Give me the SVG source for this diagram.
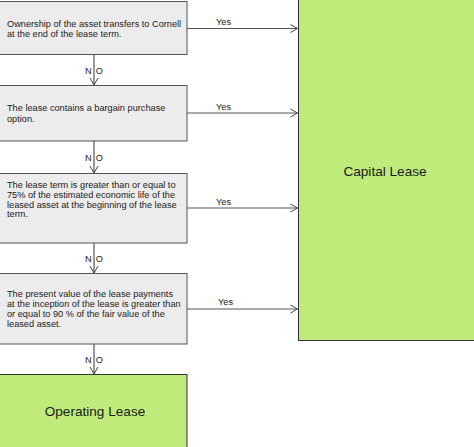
<svg xmlns="http://www.w3.org/2000/svg" width="474" height="447" viewBox="0 0 474 447">
<defs>
<style>
.box{fill:#ececec;stroke:#555;stroke-width:1}
.green{fill:#bfeb7b;stroke:#333;stroke-width:1}
.t{font-family:"Liberation Sans",Arial,sans-serif;font-size:9.2px;fill:#222}
.big{font-family:"Liberation Sans",Arial,sans-serif;font-size:13.6px;fill:#1a1a1a;text-anchor:middle}
.c{stroke:#555;stroke-width:1.2;fill:none}
</style>
<marker id="ah" markerWidth="10" markerHeight="10" refX="8" refY="5" orient="auto" markerUnits="userSpaceOnUse">
<path d="M1,1 L8,5 L1,9" fill="none" stroke="#444" stroke-width="1"/>
</marker>
</defs>
<rect width="474" height="447" fill="#fff"/>
<g id="capital">
<rect class="green" x="298.5" y="-2" width="180" height="342.5"/>
<text class="big" x="385" y="176">Capital Lease</text>
</g>
<g id="operating">
<rect class="green" x="-1" y="374.5" width="188" height="80"/>
<text class="big" x="95" y="416">Operating Lease</text>
</g>
<g id="q1">
<rect class="box" x="-1" y="1.5" width="188" height="53"/>
<text class="t" x="7" y="27">Ownership of the asset transfers to Cornell</text>
<text class="t" x="7" y="37">at the end of the lease term.</text>
</g>
<g id="q2">
<rect class="box" x="-1" y="85.5" width="188" height="55.5"/>
<text class="t" x="7" y="111">The lease contains a bargain purchase</text>
<text class="t" x="7" y="121.5">option.</text>
</g>
<g id="q3">
<rect class="box" x="-1" y="173.5" width="188" height="69.5"/>
<text class="t" x="7" y="188">The lease term is greater than or equal to</text>
<text class="t" x="7" y="197.8">75% of the estimated economic life of the</text>
<text class="t" x="7" y="207.6">leased asset at the beginning of the lease</text>
<text class="t" x="7" y="217.4">term.</text>
</g>
<g id="q4">
<rect class="box" x="-1" y="273.5" width="188" height="70.5"/>
<text class="t" x="7" y="297">The present value of the lease payments</text>
<text class="t" x="7" y="307">at the inception of the lease is greater than</text>
<text class="t" x="7" y="317">or equal to 90 % of the fair value of the</text>
<text class="t" x="7" y="327">leased asset.</text>
</g>
<g id="connectors">
<path class="c" d="M187,28.5 H297.5" marker-end="url(#ah)"/>
<path class="c" d="M187,113 H297.5" marker-end="url(#ah)"/>
<path class="c" d="M187,208 H297.5" marker-end="url(#ah)"/>
<path class="c" d="M187,309 H297.5" marker-end="url(#ah)"/>
<path class="c" d="M94,54.5 V85" marker-end="url(#ah)"/>
<path class="c" d="M94,141 V173" marker-end="url(#ah)"/>
<path class="c" d="M94,243 V273" marker-end="url(#ah)"/>
<path class="c" d="M94,344 V374" marker-end="url(#ah)"/>
<text class="t" x="216" y="25">Yes</text>
<text class="t" x="216" y="110">Yes</text>
<text class="t" x="216" y="205">Yes</text>
<text class="t" x="218" y="305">Yes</text>
<text class="t" x="85" y="73.5" letter-spacing="4">NO</text>
<text class="t" x="85" y="160.5" letter-spacing="4">NO</text>
<text class="t" x="85" y="262" letter-spacing="4">NO</text>
<text class="t" x="85" y="362.5" letter-spacing="4">NO</text>
</g>
</svg>
